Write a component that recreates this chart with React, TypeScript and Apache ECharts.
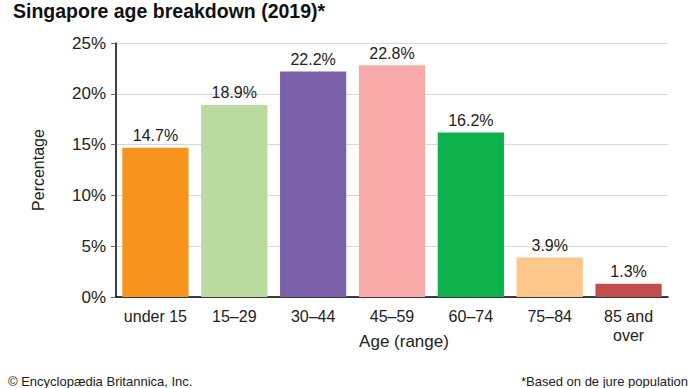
import React, { useEffect, useRef } from "react";
import * as echarts from "echarts";

const categories = ["under 15", "15–29", "30–44", "45–59", "60–74", "75–84", "85 and\nover"];
const values = [14.7, 18.9, 22.2, 22.8, 16.2, 3.9, 1.3];
const colors = ["#F7941D", "#B9DBA2", "#7B62A8", "#F8AAA8", "#0DB14B", "#FDC68A", "#C1504D"];
const yTicks = [0, 5, 10, 15, 20, 25];

const FONT = "Liberation Sans, Arial, sans-serif";

export default function App() {
  const ref = useRef<HTMLDivElement>(null);
  useEffect(() => {
    const chart = echarts.init(ref.current!, undefined, { renderer: "svg" });
    chart.setOption({
      animation: false,
      textStyle: { fontFamily: FONT },
      title: {
        text: "Singapore age breakdown (2019)*",
        left: 8,
        top: -4,
        textStyle: { fontSize: 19.5, fontWeight: "bold", color: "#111", fontFamily: FONT },
      },
      graphic: [
        { type: "text", left: 8, bottom: 0, style: { text: "© Encyclopædia Britannica, Inc.", fontSize: 13, fill: "#222", fontFamily: FONT } },
        { type: "text", right: 2, bottom: 0, style: { text: "*Based on de jure population", fontSize: 13, fill: "#222", fontFamily: FONT } },
      ],
      grid: { left: 116, right: 22, top: 43, bottom: 91, containLabel: false },
      xAxis: {
        type: "category",
        data: categories,
        axisLine: { show: true, lineStyle: { color: "#000", width: 1.5 } },
        axisTick: { show: false },
        axisLabel: { interval: 0, fontSize: 16, color: "#222", margin: 10, lineHeight: 19, fontFamily: FONT },
        name: "Age (range)",
        nameLocation: "middle",
        nameGap: 36,
        nameMoveOverlap: false,
        nameTextStyle: { fontSize: 17, color: "#222", fontFamily: FONT, padding: [0, 0, 0, 24] },
      },
      yAxis: {
        type: "value",
        min: yTicks[0],
        max: yTicks[yTicks.length - 1],
        interval: 5,
        axisLine: { show: true, lineStyle: { color: "#000", width: 1.5 } },
        axisTick: { show: true, length: 5, lineStyle: { color: "#666" } },
        axisLabel: { fontSize: 17, color: "#222", formatter: "{value}%", margin: 10, fontFamily: FONT },
        splitLine: { show: true, lineStyle: { color: "#d9d9d9" } },
        name: "Percentage",
        nameLocation: "middle",
        nameGap: 70,
        nameMoveOverlap: false,
        nameTextStyle: { fontSize: 16, color: "#222", fontFamily: FONT },
      },
      series: [
        {
          type: "bar",
          data: values.map((v, i) => ({ value: v, itemStyle: { color: colors[i] } })),
          barCategoryGap: "16%",
          label: {
            show: true,
            position: "top",
            distance: 4,
            fontSize: 16,
            color: "#222",
            fontFamily: FONT,
            formatter: (p: any) => p.value.toFixed(1) + "%",
          },
        },
      ],
    });
    return () => chart.dispose();
  }, []);
  return <div ref={ref} style={{ width: 690, height: 388, position: "absolute", left: 0, top: 0 }} />;
}
